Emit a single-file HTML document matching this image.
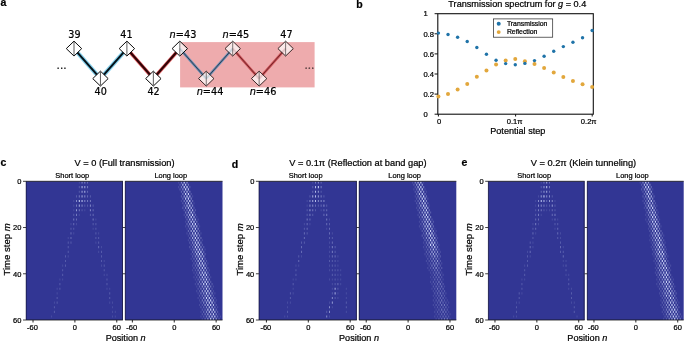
<!DOCTYPE html>
<html><head><meta charset="utf-8"><title>Figure</title><style>html,body{margin:0;padding:0;background:#fff}svg text{stroke:#000;stroke-width:0.22px}</style></head><body>
<svg width="685" height="343" viewBox="0 0 685 343" style="display:block">
<rect width="685" height="343" fill="#fff"/>
<text x="0.5" y="5.9" font-family="Liberation Sans, Arial, Helvetica, sans-serif" font-size="10.5" font-weight="bold" fill="#000">a</text>
<text x="356.3" y="7.9" font-family="Liberation Sans, Arial, Helvetica, sans-serif" font-size="10.5" font-weight="bold" fill="#000">b</text>
<text x="0.5" y="166.0" font-family="Liberation Sans, Arial, Helvetica, sans-serif" font-size="10.5" font-weight="bold" fill="#000">c</text>
<text x="231.8" y="167.6" font-family="Liberation Sans, Arial, Helvetica, sans-serif" font-size="10.5" font-weight="bold" fill="#000">d</text>
<text x="461.6" y="165.6" font-family="Liberation Sans, Arial, Helvetica, sans-serif" font-size="10.5" font-weight="bold" fill="#000">e</text>
<rect x="180.1" y="42.1" width="134.5" height="45.3" fill="#eeabad"/>
<line x1="74.00" y1="48.60" x2="100.45" y2="78.60" stroke="#86d2ee" stroke-width="4.4"/>
<line x1="74.00" y1="48.60" x2="100.45" y2="78.60" stroke="#04121a" stroke-width="2.1"/>
<line x1="100.45" y1="78.60" x2="126.90" y2="48.60" stroke="#86d2ee" stroke-width="4.4"/>
<line x1="100.45" y1="78.60" x2="126.90" y2="48.60" stroke="#04121a" stroke-width="2.1"/>
<line x1="126.90" y1="48.60" x2="153.35" y2="78.60" stroke="#e9676a" stroke-width="3.7"/>
<line x1="126.90" y1="48.60" x2="153.35" y2="78.60" stroke="#300306" stroke-width="2.2"/>
<line x1="153.35" y1="78.60" x2="179.80" y2="48.60" stroke="#e9676a" stroke-width="3.7"/>
<line x1="153.35" y1="78.60" x2="179.80" y2="48.60" stroke="#300306" stroke-width="2.2"/>
<path d="M66.30 48.60L74.00 41.15L81.70 48.60L74.00 56.05Z" fill="#fff" stroke="#0a0a0a" stroke-width="1"/>
<line x1="74.00" y1="41.65" x2="74.00" y2="55.55" stroke="#333" stroke-width="0.8"/>
<path d="M92.75 78.60L100.45 71.15L108.15 78.60L100.45 86.05Z" fill="#fff" stroke="#0a0a0a" stroke-width="1"/>
<line x1="100.45" y1="71.65" x2="100.45" y2="85.55" stroke="#333" stroke-width="0.8"/>
<path d="M119.20 48.60L126.90 41.15L134.60 48.60L126.90 56.05Z" fill="#fff" stroke="#0a0a0a" stroke-width="1"/>
<line x1="126.90" y1="41.65" x2="126.90" y2="55.55" stroke="#333" stroke-width="0.8"/>
<path d="M145.65 78.60L153.35 71.15L161.05 78.60L153.35 86.05Z" fill="#fff" stroke="#0a0a0a" stroke-width="1"/>
<line x1="153.35" y1="71.65" x2="153.35" y2="85.55" stroke="#333" stroke-width="0.8"/>
<g opacity="0.8">
<line x1="179.80" y1="48.60" x2="206.25" y2="78.60" stroke="#3f83b8" stroke-width="2.5"/>
<line x1="179.80" y1="48.60" x2="206.25" y2="78.60" stroke="#0a2030" stroke-width="1.0"/>
<line x1="206.25" y1="78.60" x2="232.70" y2="48.60" stroke="#3f83b8" stroke-width="2.5"/>
<line x1="206.25" y1="78.60" x2="232.70" y2="48.60" stroke="#0a2030" stroke-width="1.0"/>
<line x1="232.70" y1="48.60" x2="259.15" y2="78.60" stroke="#c0353c" stroke-width="2.5"/>
<line x1="232.70" y1="48.60" x2="259.15" y2="78.60" stroke="#50080c" stroke-width="1.0"/>
<line x1="259.15" y1="78.60" x2="285.60" y2="48.60" stroke="#c0353c" stroke-width="2.5"/>
<line x1="259.15" y1="78.60" x2="285.60" y2="48.60" stroke="#50080c" stroke-width="1.0"/>
</g>
<path d="M172.10 48.60L179.80 41.15L179.80 56.05Z" fill="#fff"/>
<path d="M187.50 48.60L179.80 41.15L179.80 56.05Z" fill="#fff" fill-opacity="0.72"/>
<path d="M172.10 48.60L179.80 41.15L187.50 48.60L179.80 56.05Z" fill="none" stroke="#0a0a0a" stroke-width="1"/>
<line x1="179.80" y1="41.65" x2="179.80" y2="55.55" stroke="#555" stroke-width="0.8"/>
<path d="M198.55 78.60L206.25 71.15L213.95 78.60L206.25 86.05Z" fill="#fff" fill-opacity="0.72" stroke="#1a0a0a" stroke-opacity="0.85" stroke-width="1"/>
<line x1="206.25" y1="71.65" x2="206.25" y2="85.55" stroke="#333" stroke-opacity="0.8" stroke-width="0.8"/>
<path d="M225.00 48.60L232.70 41.15L240.40 48.60L232.70 56.05Z" fill="#fff" fill-opacity="0.72" stroke="#1a0a0a" stroke-opacity="0.85" stroke-width="1"/>
<line x1="232.70" y1="41.65" x2="232.70" y2="55.55" stroke="#333" stroke-opacity="0.8" stroke-width="0.8"/>
<path d="M251.45 78.60L259.15 71.15L266.85 78.60L259.15 86.05Z" fill="#fff" fill-opacity="0.72" stroke="#1a0a0a" stroke-opacity="0.85" stroke-width="1"/>
<line x1="259.15" y1="71.65" x2="259.15" y2="85.55" stroke="#333" stroke-opacity="0.8" stroke-width="0.8"/>
<path d="M277.90 48.60L285.60 41.15L293.30 48.60L285.60 56.05Z" fill="#fff" fill-opacity="0.72" stroke="#1a0a0a" stroke-opacity="0.85" stroke-width="1"/>
<line x1="285.60" y1="41.65" x2="285.60" y2="55.55" stroke="#333" stroke-opacity="0.8" stroke-width="0.8"/>
<text x="56.6" y="68.5" font-family="DejaVu Sans, Liberation Sans, sans-serif" font-size="11" fill="#111" textLength="10.0" lengthAdjust="spacingAndGlyphs">...</text>
<text x="304.4" y="69.2" font-family="DejaVu Sans, Liberation Sans, sans-serif" font-size="11" fill="#111" fill-opacity="0.6" textLength="10.0" lengthAdjust="spacingAndGlyphs">...</text>
<text x="74.40" y="37.8" font-family="DejaVu Sans, Liberation Sans, sans-serif" font-size="9.6" fill="#000" stroke="#000" stroke-width="0.06" text-anchor="middle">39</text>
<text x="126.40" y="37.8" font-family="DejaVu Sans, Liberation Sans, sans-serif" font-size="9.6" fill="#000" stroke="#000" stroke-width="0.06" text-anchor="middle">41</text>
<text x="183.00" y="37.8" font-family="DejaVu Sans, Liberation Sans, sans-serif" font-size="9.6" fill="#000" stroke="#000" stroke-width="0.06" text-anchor="middle" textLength="26.8" lengthAdjust="spacingAndGlyphs"><tspan font-style="italic">n</tspan>=43</text>
<text x="235.90" y="37.8" font-family="DejaVu Sans, Liberation Sans, sans-serif" font-size="9.6" fill="#000" stroke="#000" stroke-width="0.06" text-anchor="middle" textLength="26.8" lengthAdjust="spacingAndGlyphs"><tspan font-style="italic">n</tspan>=45</text>
<text x="286.40" y="37.8" font-family="DejaVu Sans, Liberation Sans, sans-serif" font-size="9.6" fill="#000" stroke="#000" stroke-width="0.06" text-anchor="middle">47</text>
<text x="100.65" y="95.0" font-family="DejaVu Sans, Liberation Sans, sans-serif" font-size="9.6" fill="#000" stroke="#000" stroke-width="0.06" text-anchor="middle">40</text>
<text x="153.55" y="95.0" font-family="DejaVu Sans, Liberation Sans, sans-serif" font-size="9.6" fill="#000" stroke="#000" stroke-width="0.06" text-anchor="middle">42</text>
<text x="210.05" y="95.0" font-family="DejaVu Sans, Liberation Sans, sans-serif" font-size="9.6" fill="#000" stroke="#000" stroke-width="0.06" text-anchor="middle" textLength="26.8" lengthAdjust="spacingAndGlyphs"><tspan font-style="italic">n</tspan>=44</text>
<text x="263.05" y="95.0" font-family="DejaVu Sans, Liberation Sans, sans-serif" font-size="9.6" fill="#000" stroke="#000" stroke-width="0.06" text-anchor="middle" textLength="26.8" lengthAdjust="spacingAndGlyphs"><tspan font-style="italic">n</tspan>=46</text>
<text x="517.3" y="7.0" font-family="Liberation Sans, Arial, Helvetica, sans-serif" font-size="9.13" fill="#000" text-anchor="middle">Transmission spectrum for <tspan font-style="italic">g</tspan> = 0.4</text>
<rect x="437.8" y="13.7" width="155.50" height="100.50" fill="none" stroke="#111" stroke-width="1.1"/>
<line x1="434.6" y1="114.20" x2="437.8" y2="114.20" stroke="#111" stroke-width="1"/>
<text x="423.4" y="116.95" font-family="Liberation Sans, Arial, Helvetica, sans-serif" font-size="7.6" fill="#000">0</text>
<line x1="434.6" y1="94.10" x2="437.8" y2="94.10" stroke="#111" stroke-width="1"/>
<text x="423.4" y="96.85" font-family="Liberation Sans, Arial, Helvetica, sans-serif" font-size="7.6" fill="#000">0.2</text>
<line x1="434.6" y1="74.00" x2="437.8" y2="74.00" stroke="#111" stroke-width="1"/>
<text x="423.4" y="76.75" font-family="Liberation Sans, Arial, Helvetica, sans-serif" font-size="7.6" fill="#000">0.4</text>
<line x1="434.6" y1="53.90" x2="437.8" y2="53.90" stroke="#111" stroke-width="1"/>
<text x="423.4" y="56.65" font-family="Liberation Sans, Arial, Helvetica, sans-serif" font-size="7.6" fill="#000">0.6</text>
<line x1="434.6" y1="33.80" x2="437.8" y2="33.80" stroke="#111" stroke-width="1"/>
<text x="423.4" y="36.55" font-family="Liberation Sans, Arial, Helvetica, sans-serif" font-size="7.6" fill="#000">0.8</text>
<line x1="434.6" y1="13.70" x2="437.8" y2="13.70" stroke="#111" stroke-width="1"/>
<text x="423.4" y="16.45" font-family="Liberation Sans, Arial, Helvetica, sans-serif" font-size="7.6" fill="#000">1</text>
<line x1="438.40" y1="114.2" x2="438.40" y2="116.5" stroke="#111" stroke-width="1"/>
<line x1="515.60" y1="114.2" x2="515.60" y2="116.5" stroke="#111" stroke-width="1"/>
<line x1="592.20" y1="114.2" x2="592.20" y2="116.5" stroke="#111" stroke-width="1"/>
<text x="439" y="124.3" font-family="Liberation Sans, Arial, Helvetica, sans-serif" font-size="7.6" fill="#000" text-anchor="middle">0</text>
<text x="514.6" y="124.3" font-family="Liberation Sans, Arial, Helvetica, sans-serif" font-size="7.6" fill="#000" text-anchor="middle">0.1π</text>
<text x="588.7" y="124.3" font-family="Liberation Sans, Arial, Helvetica, sans-serif" font-size="7.6" fill="#000" text-anchor="middle">0.2π</text>
<text x="517.8" y="134.4" font-family="Liberation Sans, Arial, Helvetica, sans-serif" font-size="9.1" fill="#000" text-anchor="middle">Potential step</text>
<circle cx="438.40" cy="96.5" r="2.0" fill="#e2a73c"/>
<circle cx="448.01" cy="93.9" r="2.0" fill="#e2a73c"/>
<circle cx="457.62" cy="89.6" r="2.0" fill="#e2a73c"/>
<circle cx="467.23" cy="83.9" r="2.0" fill="#e2a73c"/>
<circle cx="476.84" cy="76.8" r="2.0" fill="#e2a73c"/>
<circle cx="486.45" cy="70.5" r="2.0" fill="#e2a73c"/>
<circle cx="496.06" cy="64.5" r="2.0" fill="#e2a73c"/>
<circle cx="505.67" cy="60.5" r="2.0" fill="#e2a73c"/>
<circle cx="515.28" cy="59.1" r="2.0" fill="#e2a73c"/>
<circle cx="524.89" cy="61.2" r="2.0" fill="#e2a73c"/>
<circle cx="534.50" cy="64.1" r="2.0" fill="#e2a73c"/>
<circle cx="544.11" cy="68.1" r="2.0" fill="#e2a73c"/>
<circle cx="553.72" cy="72.6" r="2.0" fill="#e2a73c"/>
<circle cx="563.33" cy="77.0" r="2.0" fill="#e2a73c"/>
<circle cx="572.94" cy="81.0" r="2.0" fill="#e2a73c"/>
<circle cx="582.55" cy="84.2" r="2.0" fill="#e2a73c"/>
<circle cx="592.16" cy="87.0" r="2.0" fill="#e2a73c"/>
<circle cx="438.40" cy="33.1" r="1.7" fill="#1f73a8"/>
<circle cx="448.01" cy="34.5" r="1.7" fill="#1f73a8"/>
<circle cx="457.62" cy="37.2" r="1.7" fill="#1f73a8"/>
<circle cx="467.23" cy="41.5" r="1.7" fill="#1f73a8"/>
<circle cx="476.84" cy="47.5" r="1.7" fill="#1f73a8"/>
<circle cx="486.45" cy="54.3" r="1.7" fill="#1f73a8"/>
<circle cx="496.06" cy="60.3" r="1.7" fill="#1f73a8"/>
<circle cx="505.67" cy="63.6" r="1.7" fill="#1f73a8"/>
<circle cx="515.28" cy="64.7" r="1.7" fill="#1f73a8"/>
<circle cx="524.89" cy="63.4" r="1.7" fill="#1f73a8"/>
<circle cx="534.50" cy="60.6" r="1.7" fill="#1f73a8"/>
<circle cx="544.11" cy="56.3" r="1.7" fill="#1f73a8"/>
<circle cx="553.72" cy="51.3" r="1.7" fill="#1f73a8"/>
<circle cx="563.33" cy="46.6" r="1.7" fill="#1f73a8"/>
<circle cx="572.94" cy="42.2" r="1.7" fill="#1f73a8"/>
<circle cx="582.55" cy="37.7" r="1.7" fill="#1f73a8"/>
<circle cx="592.16" cy="30.5" r="1.7" fill="#1f73a8"/>
<rect x="493.4" y="18.9" width="59.3" height="18.3" fill="#fff" stroke="#222" stroke-width="0.7"/>
<circle cx="498.7" cy="23.7" r="2.0" fill="#1f73a8"/>
<circle cx="498.7" cy="32.1" r="1.95" fill="#e2a73c"/>
<text x="506.9" y="26.0" font-family="Liberation Sans, Arial, Helvetica, sans-serif" font-size="6.86" fill="#000">Transmission</text>
<text x="506.9" y="34.4" font-family="Liberation Sans, Arial, Helvetica, sans-serif" font-size="6.86" fill="#000">Reflection</text>
<rect x="26.00" y="181.3" width="96.9" height="138.70" fill="#323694"/>
<path d="M78.82 182.46h0.93M73.29 200.95h0.93M73.29 205.57h0.93M73.29 210.20h0.93M84.36 210.20h0.93M78.82 214.82h0.93M95.43 219.44h0.93M70.52 224.07h0.93M76.05 224.07h0.93M92.67 228.69h0.93M73.29 233.31h0.93M98.20 233.31h0.93M67.75 237.94h0.93M95.43 242.56h0.93M100.97 247.18h0.93M98.20 251.81h0.93M67.75 256.43h0.93M103.74 261.05h0.93M62.21 265.68h0.93M100.97 265.68h0.93M103.74 274.92h0.93M106.51 274.92h0.93M59.44 279.55h0.93M62.21 279.55h0.93M56.67 288.79h0.93M106.51 288.79h0.93M109.28 288.79h0.93M56.67 293.42h0.93M53.91 302.66h0.93M109.28 302.66h0.93M112.05 302.66h0.93M112.05 307.29h0.93M112.05 311.91h0.93M114.81 311.91h0.93M51.14 316.53h0.93M112.05 316.53h0.93M114.81 316.53h0.93" stroke="#d6e0ff" stroke-opacity="0.14" stroke-width="2.13" fill="none"/>
<path d="M78.82 187.08h0.93M78.82 191.70h0.93M76.05 196.33h0.93M89.90 196.33h0.93M84.36 205.57h0.93M87.13 205.57h0.93M92.67 205.57h0.93M81.59 210.20h0.93M73.29 214.82h0.93M89.90 214.82h0.93M92.67 224.07h0.93M95.43 224.07h0.93M70.52 228.69h0.93M73.29 228.69h0.93M95.43 228.69h0.93M95.43 233.31h0.93M95.43 237.94h0.93M98.20 237.94h0.93M67.75 242.56h0.93M70.52 242.56h0.93M98.20 242.56h0.93M67.75 247.18h0.93M67.75 251.81h0.93M100.97 251.81h0.93M64.98 256.43h0.93M100.97 256.43h0.93M64.98 261.05h0.93M100.97 261.05h0.93M64.98 265.68h0.93M103.74 265.68h0.93M62.21 270.30h0.93M103.74 270.30h0.93M62.21 274.92h0.93M106.51 279.55h0.93M59.44 284.17h0.93M106.51 284.17h0.93M59.44 288.79h0.93M109.28 293.42h0.93M56.67 298.04h0.93M109.28 298.04h0.93M56.67 302.66h0.93M53.91 307.29h0.93M53.91 311.91h0.93" stroke="#d6e0ff" stroke-opacity="0.24" stroke-width="2.13" fill="none"/>
<path d="M87.13 182.46h0.93M87.13 191.70h0.93M87.13 196.33h0.93M92.67 210.20h0.93M92.67 214.82h0.93M76.05 219.44h0.93M73.29 224.07h0.93M70.52 233.31h0.93M70.52 237.94h0.93M98.20 247.18h0.93" stroke="#d6e0ff" stroke-opacity="0.34" stroke-width="2.13" fill="none"/>
<path d="M87.13 187.08h0.93M78.82 196.33h0.93M87.13 200.95h0.93M89.90 200.95h0.93M76.05 205.57h0.93M78.82 210.20h0.93M76.05 214.82h0.93M73.29 219.44h0.93M92.67 219.44h0.93" stroke="#d6e0ff" stroke-opacity="0.44" stroke-width="2.13" fill="none"/>
<path d="M81.59 182.46h0.93M84.36 182.46h0.93M84.36 196.33h0.93M76.05 200.95h0.93M84.36 200.95h0.93M81.59 205.57h0.93M89.90 205.57h0.93M89.90 210.20h0.93" stroke="#d6e0ff" stroke-opacity="0.54" stroke-width="2.13" fill="none"/>
<path d="M76.05 210.20h0.93" stroke="#d6e0ff" stroke-opacity="0.64" stroke-width="2.13" fill="none"/>
<path d="M84.36 187.08h0.93M81.59 191.70h0.93M81.59 196.33h0.93M78.82 205.57h0.93" stroke="#d6e0ff" stroke-opacity="0.74" stroke-width="2.13" fill="none"/>
<path d="M81.59 187.08h0.93M84.36 191.70h0.93" stroke="#d6e0ff" stroke-opacity="0.84" stroke-width="2.13" fill="none"/>
<path d="M81.59 200.95h0.93" stroke="#d6e0ff" stroke-opacity="0.94" stroke-width="2.13" fill="none"/>
<path d="M78.82 200.95h0.93" stroke="#d6e0ff" stroke-opacity="1.00" stroke-width="2.13" fill="none"/>
<rect x="125.10" y="181.3" width="97.4" height="138.70" fill="#323694"/>
<path d="M178.07 182.46h1.19M178.07 187.08h1.19M191.99 196.33h1.19M180.86 200.95h1.19M193.38 203.26h1.19M183.64 214.82h1.19M196.16 217.13h1.19M197.55 219.44h1.19M185.03 221.75h1.19M185.03 226.38h1.19M198.95 226.38h1.19M186.42 228.69h1.19M186.42 233.31h1.19M200.34 233.31h1.19M187.81 235.62h1.19M187.81 240.25h1.19M201.73 240.25h1.19M204.51 249.49h1.19M190.60 254.12h1.19M190.60 258.74h1.19M191.99 261.05h1.19M207.29 263.36h1.19M191.99 265.68h1.19M191.99 270.30h1.19M208.69 270.30h1.19M193.38 272.61h1.19M194.77 274.92h1.19M193.38 277.23h1.19M210.08 277.23h1.19M194.77 279.55h1.19M196.16 281.86h1.19M194.77 284.17h1.19M196.16 286.48h1.19M212.86 286.48h1.19M196.16 291.10h1.19M212.86 291.10h1.19M197.55 293.42h1.19M214.25 293.42h1.19M197.55 298.04h1.19M198.95 300.35h1.19M215.64 300.35h1.19M198.95 304.97h1.19M217.03 307.29h1.19M200.34 311.91h1.19M218.43 314.22h1.19M200.34 316.53h1.19M219.82 316.53h1.19M201.73 318.84h1.19" stroke="#d6e0ff" stroke-opacity="0.13" stroke-width="2.13" fill="none"/>
<path d="M179.47 184.77h1.19M189.21 187.08h1.19M179.47 189.39h1.19M190.60 194.01h1.19M180.86 196.33h1.19M182.25 203.26h1.19M182.25 207.88h1.19M193.38 207.88h1.19M183.64 210.20h1.19M194.77 210.20h1.19M185.03 217.13h1.19M197.55 224.07h1.19M198.95 231.00h1.19M189.21 242.56h1.19M190.60 244.87h1.19M201.73 244.87h1.19M189.21 247.18h1.19M203.12 247.18h1.19M190.60 249.49h1.19M204.51 254.12h1.19M191.99 256.43h1.19M205.90 261.05h1.19M193.38 263.36h1.19M193.38 267.99h1.19M207.29 267.99h1.19M194.77 270.30h1.19M196.16 272.61h1.19M208.69 274.92h1.19M196.16 277.23h1.19M210.08 281.86h1.19M211.47 284.17h1.19M197.55 288.79h1.19M211.47 288.79h1.19M198.95 291.10h1.19M198.95 295.73h1.19M212.86 295.73h1.19M200.34 298.04h1.19M214.25 298.04h1.19M200.34 302.66h1.19M201.73 304.97h1.19M215.64 304.97h1.19M200.34 307.29h1.19M201.73 309.60h1.19M217.03 311.91h1.19M201.73 314.22h1.19M203.12 316.53h1.19M218.43 318.84h1.19" stroke="#d6e0ff" stroke-opacity="0.22" stroke-width="2.13" fill="none"/>
<path d="M180.86 191.70h1.19M182.25 198.64h1.19M191.99 200.95h1.19M183.64 205.57h1.19M194.77 214.82h1.19M186.42 219.44h1.19M186.42 224.07h1.19M187.81 226.38h1.19M187.81 231.00h1.19M189.21 233.31h1.19M189.21 237.94h1.19M200.34 237.94h1.19M191.99 247.18h1.19M191.99 251.81h1.19M203.12 251.81h1.19M193.38 254.12h1.19M193.38 258.74h1.19M204.51 258.74h1.19M194.77 261.05h1.19M194.77 265.68h1.19M205.90 265.68h1.19M196.16 267.99h1.19M197.55 274.92h1.19M197.55 279.55h1.19M197.55 284.17h1.19M198.95 286.48h1.19M214.25 302.66h1.19M203.12 307.29h1.19M204.51 309.60h1.19M215.64 309.60h1.19M203.12 311.91h1.19M217.03 316.53h1.19M204.51 318.84h1.19" stroke="#d6e0ff" stroke-opacity="0.30" stroke-width="2.13" fill="none"/>
<path d="M187.81 184.77h1.19M180.86 187.08h1.19M189.21 191.70h1.19M182.25 194.01h1.19M183.64 200.95h1.19M186.42 210.20h1.19M185.03 212.51h1.19M196.16 221.75h1.19M189.21 228.69h1.19M198.95 235.62h1.19M190.60 240.25h1.19M200.34 242.56h1.19M196.16 263.36h1.19M207.29 272.61h1.19M198.95 277.23h1.19M198.95 281.86h1.19M210.08 286.48h1.19M200.34 288.79h1.19M200.34 293.42h1.19M201.73 295.73h1.19M201.73 300.35h1.19M214.25 307.29h1.19M204.51 314.22h1.19M205.90 316.53h1.19" stroke="#d6e0ff" stroke-opacity="0.39" stroke-width="2.13" fill="none"/>
<path d="M180.86 182.46h1.19M182.25 189.39h1.19M190.60 198.64h1.19M185.03 203.26h1.19M191.99 205.57h1.19M185.03 207.88h1.19M193.38 212.51h1.19M186.42 214.82h1.19M187.81 217.13h1.19M187.81 221.75h1.19M197.55 228.69h1.19M190.60 235.62h1.19M198.95 240.25h1.19M191.99 242.56h1.19M200.34 247.18h1.19M194.77 256.43h1.19M197.55 270.30h1.19M205.90 270.30h1.19M208.69 279.55h1.19M200.34 284.17h1.19M208.69 284.17h1.19M211.47 293.42h1.19M212.86 300.35h1.19M203.12 302.66h1.19M205.90 307.29h1.19M205.90 311.91h1.19M215.64 314.22h1.19" stroke="#d6e0ff" stroke-opacity="0.48" stroke-width="2.13" fill="none"/>
<path d="M186.42 182.46h1.19M183.64 196.33h1.19M189.21 224.07h1.19M197.55 233.31h1.19M193.38 244.87h1.19M193.38 249.49h1.19M201.73 249.49h1.19M194.77 251.81h1.19M203.12 256.43h1.19M196.16 258.74h1.19M203.12 261.05h1.19M204.51 263.36h1.19M198.95 272.61h1.19M207.29 277.23h1.19M201.73 281.86h1.19M201.73 286.48h1.19M203.12 288.79h1.19M201.73 291.10h1.19M210.08 291.10h1.19M203.12 293.42h1.19M203.12 298.04h1.19M211.47 298.04h1.19M204.51 300.35h1.19M204.51 304.97h1.19M207.29 318.84h1.19M215.64 318.84h1.19" stroke="#d6e0ff" stroke-opacity="0.57" stroke-width="2.13" fill="none"/>
<path d="M183.64 191.70h1.19M190.60 203.26h1.19M187.81 212.51h1.19M193.38 217.13h1.19M194.77 219.44h1.19M196.16 226.38h1.19M190.60 231.00h1.19M196.16 231.00h1.19M191.99 237.94h1.19M198.95 244.87h1.19M197.55 265.68h1.19M198.95 267.99h1.19M200.34 279.55h1.19M208.69 288.79h1.19M204.51 295.73h1.19M210.08 295.73h1.19M205.90 302.66h1.19M207.29 314.22h1.19M208.69 316.53h1.19" stroke="#d6e0ff" stroke-opacity="0.66" stroke-width="2.13" fill="none"/>
<path d="M187.81 189.39h1.19M189.21 196.33h1.19M186.42 200.95h1.19M186.42 205.57h1.19M187.81 207.88h1.19M190.60 207.88h1.19M191.99 210.20h1.19M190.60 226.38h1.19M191.99 228.69h1.19M191.99 233.31h1.19M197.55 237.94h1.19M193.38 240.25h1.19M201.73 254.12h1.19M197.55 256.43h1.19M197.55 261.05h1.19M200.34 270.30h1.19M203.12 270.30h1.19M200.34 274.92h1.19M207.29 281.86h1.19M204.51 286.48h1.19M204.51 291.10h1.19M208.69 293.42h1.19M212.86 304.97h1.19M211.47 307.29h1.19M208.69 311.91h1.19M211.47 311.91h1.19M214.25 311.91h1.19M210.08 314.22h1.19M212.86 318.84h1.19" stroke="#d6e0ff" stroke-opacity="0.74" stroke-width="2.13" fill="none"/>
<path d="M182.25 184.77h1.19M185.03 184.77h1.19M186.42 191.70h1.19M185.03 198.64h1.19M189.21 214.82h1.19M189.21 219.44h1.19M191.99 219.44h1.19M191.99 224.07h1.19M193.38 235.62h1.19M196.16 235.62h1.19M194.77 242.56h1.19M194.77 247.18h1.19M197.55 247.18h1.19M196.16 254.12h1.19M200.34 256.43h1.19M200.34 265.68h1.19M201.73 267.99h1.19M204.51 267.99h1.19M201.73 272.61h1.19M205.90 274.92h1.19M201.73 277.23h1.19M204.51 277.23h1.19M203.12 279.55h1.19M208.69 307.29h1.19M207.29 309.60h1.19" stroke="#d6e0ff" stroke-opacity="0.83" stroke-width="2.13" fill="none"/>
<path d="M183.64 182.46h1.19M183.64 187.08h1.19M186.42 187.08h1.19M185.03 189.39h1.19M185.03 194.01h1.19M187.81 194.01h1.19M186.42 196.33h1.19M187.81 198.64h1.19M189.21 200.95h1.19M187.81 203.26h1.19M189.21 205.57h1.19M189.21 210.20h1.19M190.60 212.51h1.19M191.99 214.82h1.19M190.60 217.13h1.19M190.60 221.75h1.19M193.38 221.75h1.19M194.77 224.07h1.19M193.38 226.38h1.19M194.77 228.69h1.19M193.38 231.00h1.19M194.77 233.31h1.19M194.77 237.94h1.19M196.16 240.25h1.19M197.55 242.56h1.19M196.16 244.87h1.19M196.16 249.49h1.19M198.95 249.49h1.19M197.55 251.81h1.19M200.34 251.81h1.19M198.95 254.12h1.19M198.95 258.74h1.19M201.73 258.74h1.19M200.34 261.05h1.19M198.95 263.36h1.19M201.73 263.36h1.19M203.12 265.68h1.19M204.51 272.61h1.19M203.12 274.92h1.19M205.90 279.55h1.19M204.51 281.86h1.19M203.12 284.17h1.19M205.90 284.17h1.19M207.29 286.48h1.19M205.90 288.79h1.19M207.29 291.10h1.19M205.90 293.42h1.19M207.29 295.73h1.19M205.90 298.04h1.19M208.69 298.04h1.19M207.29 300.35h1.19M210.08 300.35h1.19M208.69 302.66h1.19M211.47 302.66h1.19M207.29 304.97h1.19M210.08 304.97h1.19M210.08 309.60h1.19M212.86 309.60h1.19M212.86 314.22h1.19M211.47 316.53h1.19M214.25 316.53h1.19M210.08 318.84h1.19" stroke="#d6e0ff" stroke-opacity="0.92" stroke-width="2.13" fill="none"/>
<path d="M23.0 181.3H122.9M125.1 181.3H222.5M23.0 320.0H122.9M125.1 320.0H222.5" stroke="#111" stroke-width="0.8" fill="none"/>
<path d="M26.2 181.3V320.0M125.3 181.3V320.0M122.5 181.3V320.0" stroke="#121236" stroke-width="0.7" fill="none"/>
<path d="M23.0 227.53H26.0M122.9 227.53H125.1" stroke="#111" stroke-width="0.8"/>
<path d="M23.0 273.77H26.0M122.9 273.77H125.1" stroke="#111" stroke-width="0.8"/>
<text x="21.40" y="184.25" font-family="Liberation Sans, Arial, Helvetica, sans-serif" font-size="7.5" fill="#000" text-anchor="end">0</text>
<text x="21.40" y="230.48" font-family="Liberation Sans, Arial, Helvetica, sans-serif" font-size="7.5" fill="#000" text-anchor="end">20</text>
<text x="21.40" y="276.72" font-family="Liberation Sans, Arial, Helvetica, sans-serif" font-size="7.5" fill="#000" text-anchor="end">40</text>
<text x="21.40" y="322.95" font-family="Liberation Sans, Arial, Helvetica, sans-serif" font-size="7.5" fill="#000" text-anchor="end">60</text>
<line x1="33.02" y1="320.0" x2="33.02" y2="322.5" stroke="#111" stroke-width="0.9"/>
<text x="32.42" y="329.50" font-family="Liberation Sans, Arial, Helvetica, sans-serif" font-size="7.5" fill="#000" text-anchor="middle">-60</text>
<line x1="74.90" y1="320.0" x2="74.90" y2="322.5" stroke="#111" stroke-width="0.9"/>
<text x="74.90" y="329.50" font-family="Liberation Sans, Arial, Helvetica, sans-serif" font-size="7.5" fill="#000" text-anchor="middle">0</text>
<line x1="116.78" y1="320.0" x2="116.78" y2="322.5" stroke="#111" stroke-width="0.9"/>
<text x="116.78" y="329.50" font-family="Liberation Sans, Arial, Helvetica, sans-serif" font-size="7.5" fill="#000" text-anchor="middle">60</text>
<line x1="132.37" y1="320.0" x2="132.37" y2="322.5" stroke="#111" stroke-width="0.9"/>
<text x="131.77" y="329.50" font-family="Liberation Sans, Arial, Helvetica, sans-serif" font-size="7.5" fill="#000" text-anchor="middle">-60</text>
<line x1="174.25" y1="320.0" x2="174.25" y2="322.5" stroke="#111" stroke-width="0.9"/>
<text x="174.25" y="329.50" font-family="Liberation Sans, Arial, Helvetica, sans-serif" font-size="7.5" fill="#000" text-anchor="middle">0</text>
<line x1="216.13" y1="320.0" x2="216.13" y2="322.5" stroke="#111" stroke-width="0.9"/>
<text x="216.13" y="329.50" font-family="Liberation Sans, Arial, Helvetica, sans-serif" font-size="7.5" fill="#000" text-anchor="middle">60</text>
<text x="124.55" y="166.4" font-family="Liberation Sans, Arial, Helvetica, sans-serif" font-size="9.25" fill="#000" text-anchor="middle">V = 0 (Full transmission)</text>
<text x="72.25" y="178.4" font-family="Liberation Sans, Arial, Helvetica, sans-serif" font-size="7.45" fill="#000" text-anchor="middle">Short loop</text>
<text x="170.80" y="178.4" font-family="Liberation Sans, Arial, Helvetica, sans-serif" font-size="7.45" fill="#000" text-anchor="middle">Long loop</text>
<text x="125.65" y="340.9" font-family="Liberation Sans, Arial, Helvetica, sans-serif" font-size="9.1" fill="#000" text-anchor="middle">Position <tspan font-style="italic">n</tspan></text>
<text transform="translate(10.20 249.4) rotate(-90)" font-family="Liberation Sans, Arial, Helvetica, sans-serif" font-size="9.55" fill="#000" text-anchor="middle">Time step <tspan font-style="italic">m</tspan></text>
<rect x="258.90" y="181.3" width="97.90000000000003" height="138.70" fill="#323694"/>
<path d="M312.27 182.46h0.95M306.67 200.95h0.95M306.67 205.57h0.95M320.66 210.20h0.95M329.05 219.44h0.95M303.87 224.07h0.95M309.47 224.07h0.95M326.25 228.69h0.95M331.85 233.31h0.95M329.05 242.56h0.95M329.05 247.18h0.95M329.05 251.81h0.95M301.08 256.43h0.95M329.05 256.43h0.95M337.44 256.43h0.95M337.44 261.05h0.95M295.48 265.68h0.95M298.28 265.68h0.95M329.05 265.68h0.95M337.44 265.68h0.95M329.05 270.30h0.95M340.24 270.30h0.95M337.44 274.92h0.95M340.24 274.92h0.95M292.69 279.55h0.95M295.48 279.55h0.95M329.05 279.55h0.95M331.85 279.55h0.95M337.44 279.55h0.95M340.24 279.55h0.95M331.85 284.17h0.95M340.24 284.17h0.95M292.69 288.79h0.95M331.85 288.79h0.95M345.83 288.79h0.95M292.69 293.42h0.95M337.44 293.42h0.95M345.83 293.42h0.95M337.44 298.04h0.95M345.83 298.04h0.95M287.09 302.66h0.95M289.89 302.66h0.95M329.05 302.66h0.95M287.09 307.29h0.95M331.85 307.29h0.95M345.83 311.91h0.95M284.29 316.53h0.95M287.09 316.53h0.95M329.05 316.53h0.95" stroke="#d6e0ff" stroke-opacity="0.14" stroke-width="2.13" fill="none"/>
<path d="M312.27 187.08h0.95M320.66 191.70h0.95M309.47 196.33h0.95M323.45 196.33h0.95M317.86 205.57h0.95M326.25 205.57h0.95M306.67 210.20h0.95M315.06 210.20h0.95M306.67 214.82h0.95M312.27 214.82h0.95M329.05 224.07h0.95M303.87 228.69h0.95M306.67 233.31h0.95M329.05 237.94h0.95M331.85 237.94h0.95M301.08 242.56h0.95M303.87 242.56h0.95M334.64 247.18h0.95M334.64 251.81h0.95M298.28 256.43h0.95M329.05 261.05h0.95M331.85 261.05h0.95M334.64 261.05h0.95M331.85 265.68h0.95M334.64 265.68h0.95M295.48 270.30h0.95M331.85 270.30h0.95M334.64 270.30h0.95M337.44 270.30h0.95M295.48 274.92h0.95M331.85 274.92h0.95M334.64 274.92h0.95M334.64 279.55h0.95M292.69 284.17h0.95M334.64 284.17h0.95M337.44 288.79h0.95M289.89 293.42h0.95M331.85 293.42h0.95M289.89 298.04h0.95M334.64 298.04h0.95M345.83 302.66h0.95M345.83 307.29h0.95M287.09 311.91h0.95M326.25 311.91h0.95" stroke="#d6e0ff" stroke-opacity="0.24" stroke-width="2.13" fill="none"/>
<path d="M320.66 182.46h0.95M312.27 191.70h0.95M315.06 205.57h0.95M320.66 205.57h0.95M323.45 210.20h0.95M326.25 210.20h0.95M323.45 214.82h0.95M309.47 219.44h0.95M306.67 224.07h0.95M326.25 224.07h0.95M306.67 228.69h0.95M329.05 228.69h0.95M303.87 233.31h0.95M329.05 233.31h0.95M303.87 237.94h0.95M331.85 242.56h0.95M301.08 247.18h0.95M301.08 251.81h0.95M331.85 256.43h0.95M334.64 256.43h0.95M298.28 261.05h0.95M337.44 284.17h0.95" stroke="#d6e0ff" stroke-opacity="0.34" stroke-width="2.13" fill="none"/>
<path d="M315.06 182.46h0.95M320.66 187.08h0.95M320.66 196.33h0.95M312.27 210.20h0.95M309.47 214.82h0.95M326.25 214.82h0.95M306.67 219.44h0.95M326.25 219.44h0.95M331.85 247.18h0.95M331.85 251.81h0.95" stroke="#d6e0ff" stroke-opacity="0.44" stroke-width="2.13" fill="none"/>
<path d="M317.86 182.46h0.95M309.47 200.95h0.95M317.86 200.95h0.95M320.66 200.95h0.95M323.45 200.95h0.95M309.47 205.57h0.95M312.27 205.57h0.95M323.45 205.57h0.95M331.85 298.04h0.95M329.05 307.29h0.95M329.05 311.91h0.95M326.25 316.53h0.95" stroke="#d6e0ff" stroke-opacity="0.54" stroke-width="2.13" fill="none"/>
<path d="M317.86 191.70h0.95M317.86 196.33h0.95M309.47 210.20h0.95M331.85 302.66h0.95" stroke="#d6e0ff" stroke-opacity="0.64" stroke-width="2.13" fill="none"/>
<path d="M312.27 196.33h0.95M312.27 200.95h0.95M334.64 288.79h0.95M334.64 293.42h0.95" stroke="#d6e0ff" stroke-opacity="0.74" stroke-width="2.13" fill="none"/>
<path d="M315.06 187.08h0.95M315.06 191.70h0.95M315.06 196.33h0.95M315.06 200.95h0.95" stroke="#d6e0ff" stroke-opacity="0.84" stroke-width="2.13" fill="none"/>
<path d="M317.86 187.08h0.95" stroke="#d6e0ff" stroke-opacity="1.00" stroke-width="2.13" fill="none"/>
<rect x="359.00" y="181.3" width="97.30000000000001" height="138.70" fill="#323694"/>
<path d="M411.92 182.46h1.19M423.04 182.46h1.19M413.31 189.39h1.19M424.43 189.39h1.19M425.82 191.70h1.19M414.70 196.33h1.19M427.21 198.64h1.19M414.70 200.95h1.19M428.60 205.57h1.19M416.09 207.88h1.19M417.48 214.82h1.19M418.87 221.75h1.19M418.87 226.38h1.19M420.26 228.69h1.19M434.16 228.69h1.19M435.55 231.00h1.19M436.94 237.94h1.19M423.04 242.56h1.19M424.43 244.87h1.19M438.33 244.87h1.19M423.04 247.18h1.19M424.43 249.49h1.19M439.72 251.81h1.19M424.43 254.12h1.19M425.82 256.43h1.19M425.82 261.05h1.19M427.21 263.36h1.19M441.11 263.36h1.19M428.60 265.68h1.19M427.21 267.99h1.19M428.60 270.30h1.19M429.99 272.61h1.19M441.11 272.61h1.19M431.38 274.92h1.19M442.50 274.92h1.19M429.99 277.23h1.19M431.38 279.55h1.19M442.50 279.55h1.19M429.99 281.86h1.19M431.38 284.17h1.19M443.89 286.48h1.19M431.38 288.79h1.19M432.77 291.10h1.19M445.28 293.42h1.19M432.77 295.73h1.19M434.16 298.04h1.19M445.28 298.04h1.19M432.77 300.35h1.19M446.67 300.35h1.19M434.16 302.66h1.19M448.06 302.66h1.19M432.77 304.97h1.19M434.16 307.29h1.19M448.06 307.29h1.19M435.55 309.60h1.19M434.16 311.91h1.19M448.06 311.91h1.19M435.55 314.22h1.19M449.45 314.22h1.19M434.16 316.53h1.19M436.94 316.53h1.19M435.55 318.84h1.19M449.45 318.84h1.19" stroke="#d6e0ff" stroke-opacity="0.13" stroke-width="2.13" fill="none"/>
<path d="M413.31 184.77h1.19M414.70 187.08h1.19M414.70 191.70h1.19M416.09 198.64h1.19M416.09 203.26h1.19M417.48 205.57h1.19M417.48 210.20h1.19M429.99 212.51h1.19M418.87 217.13h1.19M420.26 219.44h1.19M431.38 219.44h1.19M432.77 221.75h1.19M420.26 224.07h1.19M421.65 226.38h1.19M421.65 231.00h1.19M423.04 233.31h1.19M421.65 235.62h1.19M435.55 235.62h1.19M423.04 237.94h1.19M436.94 242.56h1.19M425.82 247.18h1.19M438.33 249.49h1.19M425.82 251.81h1.19M427.21 254.12h1.19M428.60 256.43h1.19M439.72 256.43h1.19M427.21 258.74h1.19M428.60 261.05h1.19M439.72 261.05h1.19M429.99 263.36h1.19M439.72 265.68h1.19M429.99 267.99h1.19M441.11 267.99h1.19M431.38 270.30h1.19M439.72 270.30h1.19M432.77 272.61h1.19M432.77 277.23h1.19M441.11 277.23h1.19M432.77 281.86h1.19M435.55 281.86h1.19M441.11 281.86h1.19M434.16 284.17h1.19M442.50 284.17h1.19M432.77 286.48h1.19M434.16 288.79h1.19M435.55 291.10h1.19M441.11 291.10h1.19M443.89 291.10h1.19M434.16 293.42h1.19M435.55 295.73h1.19M443.89 295.73h1.19M436.94 298.04h1.19M435.55 300.35h1.19M443.89 300.35h1.19M436.94 302.66h1.19M445.28 302.66h1.19M435.55 304.97h1.19M438.33 304.97h1.19M446.67 304.97h1.19M436.94 307.29h1.19M439.72 307.29h1.19M438.33 309.60h1.19M446.67 309.60h1.19M436.94 311.91h1.19M439.72 311.91h1.19M438.33 314.22h1.19M446.67 314.22h1.19M439.72 316.53h1.19M448.06 316.53h1.19M438.33 318.84h1.19" stroke="#d6e0ff" stroke-opacity="0.22" stroke-width="2.13" fill="none"/>
<path d="M416.09 189.39h1.19M416.09 194.01h1.19M425.82 196.33h1.19M417.48 200.95h1.19M427.21 203.26h1.19M418.87 207.88h1.19M418.87 212.51h1.19M420.26 214.82h1.19M432.77 226.38h1.19M434.16 233.31h1.19M424.43 235.62h1.19M424.43 240.25h1.19M425.82 242.56h1.19M427.21 249.49h1.19M428.60 251.81h1.19M438.33 254.12h1.19M429.99 258.74h1.19M438.33 258.74h1.19M438.33 267.99h1.19M434.16 274.92h1.19M436.94 274.92h1.19M439.72 274.92h1.19M435.55 277.23h1.19M434.16 279.55h1.19M436.94 279.55h1.19M439.72 279.55h1.19M436.94 284.17h1.19M435.55 286.48h1.19M438.33 286.48h1.19M439.72 288.79h1.19M442.50 288.79h1.19M438.33 291.10h1.19M436.94 293.42h1.19M442.50 293.42h1.19M438.33 295.73h1.19M439.72 298.04h1.19M442.50 298.04h1.19M438.33 300.35h1.19M442.50 302.66h1.19M442.50 307.29h1.19M445.28 307.29h1.19M443.89 309.60h1.19M445.28 311.91h1.19M441.11 314.22h1.19M443.89 314.22h1.19M442.50 316.53h1.19M445.28 316.53h1.19M441.11 318.84h1.19" stroke="#d6e0ff" stroke-opacity="0.30" stroke-width="2.13" fill="none"/>
<path d="M423.04 187.08h1.19M424.43 194.01h1.19M417.48 196.33h1.19M420.26 210.20h1.19M428.60 210.20h1.19M429.99 217.13h1.19M421.65 221.75h1.19M423.04 228.69h1.19M424.43 231.00h1.19M435.55 240.25h1.19M427.21 244.87h1.19M435.55 244.87h1.19M428.60 247.18h1.19M436.94 247.18h1.19M431.38 261.05h1.19M432.77 263.36h1.19M438.33 263.36h1.19M431.38 265.68h1.19M436.94 265.68h1.19M432.77 267.99h1.19M434.16 270.30h1.19M436.94 270.30h1.19M435.55 272.61h1.19M438.33 272.61h1.19M438.33 277.23h1.19M438.33 281.86h1.19M439.72 284.17h1.19M441.11 286.48h1.19M436.94 288.79h1.19M439.72 293.42h1.19M441.11 295.73h1.19M441.11 300.35h1.19M439.72 302.66h1.19M441.11 304.97h1.19M443.89 304.97h1.19M441.11 309.60h1.19M442.50 311.91h1.19M443.89 318.84h1.19M446.67 318.84h1.19" stroke="#d6e0ff" stroke-opacity="0.39" stroke-width="2.13" fill="none"/>
<path d="M414.70 182.46h1.19M418.87 198.64h1.19M425.82 200.95h1.19M418.87 203.26h1.19M428.60 214.82h1.19M421.65 217.13h1.19M423.04 219.44h1.19M423.04 224.07h1.19M431.38 224.07h1.19M432.77 231.00h1.19M425.82 237.94h1.19M427.21 240.25h1.19M436.94 251.81h1.19M429.99 254.12h1.19M431.38 256.43h1.19M436.94 256.43h1.19M432.77 258.74h1.19M435.55 258.74h1.19M434.16 261.05h1.19M434.16 265.68h1.19" stroke="#d6e0ff" stroke-opacity="0.48" stroke-width="2.13" fill="none"/>
<path d="M416.09 184.77h1.19M417.48 191.70h1.19M423.04 191.70h1.19M421.65 207.88h1.19M429.99 221.75h1.19M427.21 235.62h1.19M428.60 242.56h1.19M429.99 249.49h1.19M434.16 251.81h1.19M435.55 254.12h1.19M436.94 261.05h1.19M435.55 263.36h1.19M435.55 267.99h1.19" stroke="#d6e0ff" stroke-opacity="0.57" stroke-width="2.13" fill="none"/>
<path d="M421.65 184.77h1.19M420.26 200.95h1.19M420.26 205.57h1.19M427.21 207.88h1.19M421.65 212.51h1.19M423.04 214.82h1.19M425.82 224.07h1.19M431.38 228.69h1.19M425.82 233.31h1.19M432.77 235.62h1.19M434.16 237.94h1.19M431.38 247.18h1.19M435.55 249.49h1.19M431.38 251.81h1.19M432.77 254.12h1.19M434.16 256.43h1.19" stroke="#d6e0ff" stroke-opacity="0.66" stroke-width="2.13" fill="none"/>
<path d="M417.48 187.08h1.19M425.82 205.57h1.19M423.04 210.20h1.19M424.43 226.38h1.19M429.99 226.38h1.19M425.82 228.69h1.19M427.21 231.00h1.19M428.60 237.94h1.19M432.77 240.25h1.19M434.16 242.56h1.19" stroke="#d6e0ff" stroke-opacity="0.74" stroke-width="2.13" fill="none"/>
<path d="M417.48 182.46h1.19M418.87 184.77h1.19M418.87 189.39h1.19M418.87 194.01h1.19M420.26 196.33h1.19M424.43 198.64h1.19M421.65 203.26h1.19M424.43 217.13h1.19M425.82 219.44h1.19M424.43 221.75h1.19M434.16 247.18h1.19M432.77 249.49h1.19" stroke="#d6e0ff" stroke-opacity="0.83" stroke-width="2.13" fill="none"/>
<path d="M420.26 182.46h1.19M420.26 187.08h1.19M421.65 189.39h1.19M420.26 191.70h1.19M421.65 194.01h1.19M423.04 196.33h1.19M421.65 198.64h1.19M423.04 200.95h1.19M424.43 203.26h1.19M423.04 205.57h1.19M424.43 207.88h1.19M425.82 210.20h1.19M424.43 212.51h1.19M427.21 212.51h1.19M425.82 214.82h1.19M427.21 217.13h1.19M428.60 219.44h1.19M427.21 221.75h1.19M428.60 224.07h1.19M427.21 226.38h1.19M428.60 228.69h1.19M429.99 231.00h1.19M428.60 233.31h1.19M431.38 233.31h1.19M429.99 235.62h1.19M431.38 237.94h1.19M429.99 240.25h1.19M431.38 242.56h1.19M429.99 244.87h1.19M432.77 244.87h1.19" stroke="#d6e0ff" stroke-opacity="0.92" stroke-width="2.13" fill="none"/>
<path d="M255.89999999999998 181.3H356.8M359.0 181.3H456.3M255.89999999999998 320.0H356.8M359.0 320.0H456.3" stroke="#111" stroke-width="0.8" fill="none"/>
<path d="M259.09999999999997 181.3V320.0M359.2 181.3V320.0M356.40000000000003 181.3V320.0" stroke="#121236" stroke-width="0.7" fill="none"/>
<path d="M255.89999999999998 227.53H258.9M356.8 227.53H359.0" stroke="#111" stroke-width="0.8"/>
<path d="M255.89999999999998 273.77H258.9M356.8 273.77H359.0" stroke="#111" stroke-width="0.8"/>
<text x="254.30" y="184.25" font-family="Liberation Sans, Arial, Helvetica, sans-serif" font-size="7.5" fill="#000" text-anchor="end">0</text>
<text x="254.30" y="230.48" font-family="Liberation Sans, Arial, Helvetica, sans-serif" font-size="7.5" fill="#000" text-anchor="end">20</text>
<text x="254.30" y="276.72" font-family="Liberation Sans, Arial, Helvetica, sans-serif" font-size="7.5" fill="#000" text-anchor="end">40</text>
<text x="254.30" y="322.95" font-family="Liberation Sans, Arial, Helvetica, sans-serif" font-size="7.5" fill="#000" text-anchor="end">60</text>
<line x1="266.42" y1="320.0" x2="266.42" y2="322.5" stroke="#111" stroke-width="0.9"/>
<text x="265.82" y="329.50" font-family="Liberation Sans, Arial, Helvetica, sans-serif" font-size="7.5" fill="#000" text-anchor="middle">-60</text>
<line x1="308.30" y1="320.0" x2="308.30" y2="322.5" stroke="#111" stroke-width="0.9"/>
<text x="308.30" y="329.50" font-family="Liberation Sans, Arial, Helvetica, sans-serif" font-size="7.5" fill="#000" text-anchor="middle">0</text>
<line x1="350.18" y1="320.0" x2="350.18" y2="322.5" stroke="#111" stroke-width="0.9"/>
<text x="350.18" y="329.50" font-family="Liberation Sans, Arial, Helvetica, sans-serif" font-size="7.5" fill="#000" text-anchor="middle">60</text>
<line x1="366.22" y1="320.0" x2="366.22" y2="322.5" stroke="#111" stroke-width="0.9"/>
<text x="365.62" y="329.50" font-family="Liberation Sans, Arial, Helvetica, sans-serif" font-size="7.5" fill="#000" text-anchor="middle">-60</text>
<line x1="408.10" y1="320.0" x2="408.10" y2="322.5" stroke="#111" stroke-width="0.9"/>
<text x="408.10" y="329.50" font-family="Liberation Sans, Arial, Helvetica, sans-serif" font-size="7.5" fill="#000" text-anchor="middle">0</text>
<line x1="449.98" y1="320.0" x2="449.98" y2="322.5" stroke="#111" stroke-width="0.9"/>
<text x="449.98" y="329.50" font-family="Liberation Sans, Arial, Helvetica, sans-serif" font-size="7.5" fill="#000" text-anchor="middle">60</text>
<text x="357.90" y="166.4" font-family="Liberation Sans, Arial, Helvetica, sans-serif" font-size="9.25" fill="#000" text-anchor="middle">V = 0.1π (Reflection at band gap)</text>
<text x="305.65" y="178.4" font-family="Liberation Sans, Arial, Helvetica, sans-serif" font-size="7.45" fill="#000" text-anchor="middle">Short loop</text>
<text x="404.65" y="178.4" font-family="Liberation Sans, Arial, Helvetica, sans-serif" font-size="7.45" fill="#000" text-anchor="middle">Long loop</text>
<text x="359.00" y="340.9" font-family="Liberation Sans, Arial, Helvetica, sans-serif" font-size="9.1" fill="#000" text-anchor="middle">Position <tspan font-style="italic">n</tspan></text>
<text transform="translate(243.10 249.4) rotate(-90)" font-family="Liberation Sans, Arial, Helvetica, sans-serif" font-size="9.55" fill="#000" text-anchor="middle">Time step <tspan font-style="italic">m</tspan></text>
<rect x="488.20" y="181.3" width="96.40000000000003" height="138.70" fill="#323694"/>
<path d="M540.75 182.46h0.93M538.00 196.33h0.93M535.24 200.95h0.93M554.52 200.95h0.93M535.24 205.57h0.93M546.26 210.20h0.93M549.01 210.20h0.93M540.75 214.82h0.93M551.77 219.44h0.93M557.28 219.44h0.93M532.49 224.07h0.93M538.00 224.07h0.93M554.52 228.69h0.93M535.24 233.31h0.93M560.03 233.31h0.93M560.03 237.94h0.93M532.49 242.56h0.93M532.49 247.18h0.93M562.79 247.18h0.93M526.98 251.81h0.93M529.73 256.43h0.93M562.79 261.05h0.93M565.54 261.05h0.93M524.23 265.68h0.93M562.79 265.68h0.93M565.54 274.92h0.93M568.29 274.92h0.93M521.47 279.55h0.93M524.23 279.55h0.93M568.29 288.79h0.93M571.05 288.79h0.93M521.47 293.42h0.93M515.96 302.66h0.93M518.72 302.66h0.93M571.05 302.66h0.93M573.80 302.66h0.93M513.21 316.53h0.93M515.96 316.53h0.93M576.56 316.53h0.93" stroke="#d6e0ff" stroke-opacity="0.14" stroke-width="2.13" fill="none"/>
<path d="M540.75 187.08h0.93M551.77 196.33h0.93M546.26 205.57h0.93M549.01 205.57h0.93M554.52 205.57h0.93M535.24 210.20h0.93M543.51 210.20h0.93M554.52 210.20h0.93M535.24 214.82h0.93M554.52 224.07h0.93M557.28 224.07h0.93M532.49 228.69h0.93M532.49 237.94h0.93M557.28 237.94h0.93M529.73 242.56h0.93M560.03 242.56h0.93M560.03 251.81h0.93M562.79 251.81h0.93M526.98 256.43h0.93M526.98 261.05h0.93M526.98 265.68h0.93M565.54 265.68h0.93M524.23 270.30h0.93M565.54 270.30h0.93M524.23 274.92h0.93M568.29 279.55h0.93M521.47 284.17h0.93M568.29 284.17h0.93M521.47 288.79h0.93M518.72 293.42h0.93M571.05 293.42h0.93M518.72 298.04h0.93M571.05 298.04h0.93M515.96 307.29h0.93M573.80 307.29h0.93M515.96 311.91h0.93M573.80 311.91h0.93" stroke="#d6e0ff" stroke-opacity="0.24" stroke-width="2.13" fill="none"/>
<path d="M549.01 182.46h0.93M540.75 191.70h0.93M549.01 191.70h0.93M546.26 200.95h0.93M551.77 210.20h0.93M551.77 214.82h0.93M535.24 219.44h0.93M538.00 219.44h0.93M554.52 219.44h0.93M535.24 228.69h0.93M557.28 228.69h0.93M532.49 233.31h0.93M557.28 233.31h0.93M529.73 247.18h0.93M560.03 247.18h0.93M529.73 251.81h0.93M562.79 256.43h0.93" stroke="#d6e0ff" stroke-opacity="0.34" stroke-width="2.13" fill="none"/>
<path d="M543.51 182.46h0.93M549.01 187.08h0.93M543.51 205.57h0.93M538.00 210.20h0.93M540.75 210.20h0.93M538.00 214.82h0.93M554.52 214.82h0.93M535.24 224.07h0.93" stroke="#d6e0ff" stroke-opacity="0.44" stroke-width="2.13" fill="none"/>
<path d="M546.26 196.33h0.93M549.01 196.33h0.93M538.00 200.95h0.93M551.77 200.95h0.93M538.00 205.57h0.93M540.75 205.57h0.93" stroke="#d6e0ff" stroke-opacity="0.54" stroke-width="2.13" fill="none"/>
<path d="M543.51 187.08h0.93M543.51 191.70h0.93M540.75 196.33h0.93M549.01 200.95h0.93M551.77 205.57h0.93" stroke="#d6e0ff" stroke-opacity="0.64" stroke-width="2.13" fill="none"/>
<path d="M546.26 182.46h0.93M546.26 191.70h0.93" stroke="#d6e0ff" stroke-opacity="0.74" stroke-width="2.13" fill="none"/>
<path d="M543.51 200.95h0.93" stroke="#d6e0ff" stroke-opacity="0.84" stroke-width="2.13" fill="none"/>
<path d="M546.26 187.08h0.93M540.75 200.95h0.93" stroke="#d6e0ff" stroke-opacity="0.94" stroke-width="2.13" fill="none"/>
<path d="M543.51 196.33h0.93" stroke="#d6e0ff" stroke-opacity="1.00" stroke-width="2.13" fill="none"/>
<rect x="587.10" y="181.3" width="96.60000000000002" height="138.70" fill="#323694"/>
<path d="M639.64 182.46h1.18M652.06 189.39h1.18M642.40 200.95h1.18M656.20 205.57h1.18M643.78 207.88h1.18M645.16 210.20h1.18M657.58 212.51h1.18M645.16 214.82h1.18M646.54 217.13h1.18M645.16 219.44h1.18M658.96 219.44h1.18M646.54 221.75h1.18M660.34 226.38h1.18M647.92 228.69h1.18M649.30 235.62h1.18M663.10 235.62h1.18M649.30 240.25h1.18M650.68 242.56h1.18M664.48 242.56h1.18M650.68 247.18h1.18M665.86 249.49h1.18M652.06 254.12h1.18M653.44 256.43h1.18M667.24 256.43h1.18M653.44 261.05h1.18M654.82 263.36h1.18M668.62 263.36h1.18M670.00 265.68h1.18M654.82 267.99h1.18M670.00 270.30h1.18M654.82 272.61h1.18M671.38 277.23h1.18M656.20 279.55h1.18M672.76 279.55h1.18M657.58 281.86h1.18M656.20 284.17h1.18M657.58 286.48h1.18M674.14 286.48h1.18M658.96 293.42h1.18M660.34 300.35h1.18M676.90 300.35h1.18M678.28 302.66h1.18M660.34 304.97h1.18M661.72 311.91h1.18M663.10 314.22h1.18M681.04 316.53h1.18M663.10 318.84h1.18" stroke="#d6e0ff" stroke-opacity="0.13" stroke-width="2.13" fill="none"/>
<path d="M641.02 184.77h1.18M641.02 189.39h1.18M642.40 191.70h1.18M652.06 194.01h1.18M642.40 196.33h1.18M653.44 196.33h1.18M643.78 198.64h1.18M643.78 203.26h1.18M654.82 203.26h1.18M656.20 210.20h1.18M657.58 217.13h1.18M647.92 224.07h1.18M649.30 231.00h1.18M661.72 233.31h1.18M650.68 237.94h1.18M663.10 240.25h1.18M652.06 244.87h1.18M664.48 247.18h1.18M652.06 249.49h1.18M653.44 251.81h1.18M665.86 254.12h1.18M667.24 261.05h1.18M656.20 265.68h1.18M656.20 270.30h1.18M656.20 274.92h1.18M670.00 274.92h1.18M657.58 277.23h1.18M658.96 284.17h1.18M672.76 284.17h1.18M658.96 288.79h1.18M660.34 291.10h1.18M675.52 293.42h1.18M660.34 295.73h1.18M661.72 298.04h1.18M675.52 298.04h1.18M661.72 302.66h1.18M663.10 304.97h1.18M661.72 307.29h1.18M678.28 307.29h1.18M663.10 309.60h1.18M664.48 311.91h1.18M678.28 311.91h1.18M679.66 314.22h1.18M664.48 316.53h1.18M665.86 318.84h1.18" stroke="#d6e0ff" stroke-opacity="0.22" stroke-width="2.13" fill="none"/>
<path d="M642.40 187.08h1.18M650.68 187.08h1.18M643.78 194.01h1.18M645.16 200.95h1.18M645.16 205.57h1.18M654.82 207.88h1.18M646.54 212.51h1.18M647.92 219.44h1.18M658.96 224.07h1.18M649.30 226.38h1.18M660.34 231.00h1.18M650.68 233.31h1.18M661.72 237.94h1.18M653.44 247.18h1.18M654.82 254.12h1.18M654.82 258.74h1.18M665.86 258.74h1.18M656.20 261.05h1.18M667.24 265.68h1.18M668.62 267.99h1.18M657.58 272.61h1.18M658.96 279.55h1.18M671.38 281.86h1.18M660.34 286.48h1.18M661.72 288.79h1.18M672.76 288.79h1.18M674.14 291.10h1.18M661.72 293.42h1.18M663.10 300.35h1.18M676.90 304.97h1.18M664.48 307.29h1.18" stroke="#d6e0ff" stroke-opacity="0.30" stroke-width="2.13" fill="none"/>
<path d="M653.44 200.95h1.18M647.92 214.82h1.18M656.20 214.82h1.18M650.68 228.69h1.18M658.96 228.69h1.18M652.06 240.25h1.18M653.44 242.56h1.18M661.72 242.56h1.18M663.10 244.87h1.18M664.48 251.81h1.18M657.58 263.36h1.18M657.58 267.99h1.18M658.96 274.92h1.18M660.34 281.86h1.18M663.10 291.10h1.18M663.10 295.73h1.18M674.14 295.73h1.18M664.48 298.04h1.18M664.48 302.66h1.18M675.52 302.66h1.18M665.86 309.60h1.18M676.90 309.60h1.18M665.86 314.22h1.18M667.24 316.53h1.18M679.66 318.84h1.18" stroke="#d6e0ff" stroke-opacity="0.39" stroke-width="2.13" fill="none"/>
<path d="M642.40 182.46h1.18M649.30 184.77h1.18M643.78 189.39h1.18M645.16 196.33h1.18M646.54 198.64h1.18M652.06 198.64h1.18M653.44 205.57h1.18M646.54 207.88h1.18M649.30 217.13h1.18M649.30 221.75h1.18M657.58 221.75h1.18M650.68 224.07h1.18M652.06 235.62h1.18M660.34 235.62h1.18M654.82 244.87h1.18M654.82 249.49h1.18M656.20 256.43h1.18M664.48 256.43h1.18M665.86 263.36h1.18M668.62 272.61h1.18M660.34 277.23h1.18M661.72 279.55h1.18M670.00 279.55h1.18M661.72 284.17h1.18M663.10 286.48h1.18M672.76 293.42h1.18M665.86 300.35h1.18M674.14 300.35h1.18M665.86 304.97h1.18M678.28 316.53h1.18M668.62 318.84h1.18" stroke="#d6e0ff" stroke-opacity="0.48" stroke-width="2.13" fill="none"/>
<path d="M645.16 191.70h1.18M646.54 203.26h1.18M647.92 210.20h1.18M652.06 231.00h1.18M653.44 237.94h1.18M656.20 247.18h1.18M661.72 247.18h1.18M663.10 249.49h1.18M656.20 251.81h1.18M657.58 258.74h1.18M658.96 265.68h1.18M658.96 270.30h1.18M667.24 270.30h1.18M660.34 272.61h1.18M668.62 277.23h1.18M670.00 284.17h1.18M671.38 286.48h1.18M665.86 291.10h1.18M671.38 291.10h1.18M667.24 298.04h1.18M675.52 307.29h1.18M668.62 309.60h1.18M667.24 311.91h1.18M676.90 314.22h1.18M676.90 318.84h1.18" stroke="#d6e0ff" stroke-opacity="0.57" stroke-width="2.13" fill="none"/>
<path d="M647.92 182.46h1.18M650.68 191.70h1.18M647.92 200.95h1.18M652.06 203.26h1.18M654.82 212.51h1.18M650.68 219.44h1.18M652.06 226.38h1.18M657.58 226.38h1.18M657.58 231.00h1.18M653.44 233.31h1.18M658.96 233.31h1.18M656.20 242.56h1.18M658.96 256.43h1.18M658.96 261.05h1.18M660.34 267.99h1.18M661.72 274.92h1.18M664.48 284.17h1.18M664.48 293.42h1.18M671.38 295.73h1.18M672.76 298.04h1.18M668.62 300.35h1.18M668.62 304.97h1.18M674.14 304.97h1.18M667.24 307.29h1.18M668.62 314.22h1.18M670.00 316.53h1.18M671.38 318.84h1.18" stroke="#d6e0ff" stroke-opacity="0.66" stroke-width="2.13" fill="none"/>
<path d="M643.78 184.77h1.18M649.30 189.39h1.18M650.68 196.33h1.18M647.92 205.57h1.18M649.30 207.88h1.18M650.68 210.20h1.18M650.68 214.82h1.18M656.20 219.44h1.18M654.82 235.62h1.18M654.82 240.25h1.18M660.34 263.36h1.18M661.72 265.68h1.18M661.72 270.30h1.18M663.10 272.61h1.18M663.10 281.86h1.18M664.48 288.79h1.18M670.00 288.79h1.18M667.24 293.42h1.18M671.38 300.35h1.18M667.24 302.66h1.18M672.76 302.66h1.18M670.00 307.29h1.18M670.00 311.91h1.18M672.76 311.91h1.18M674.14 314.22h1.18" stroke="#d6e0ff" stroke-opacity="0.74" stroke-width="2.13" fill="none"/>
<path d="M646.54 189.39h1.18M649.30 194.01h1.18M649.30 203.26h1.18M653.44 210.20h1.18M649.30 212.51h1.18M654.82 217.13h1.18M656.20 224.07h1.18M656.20 237.94h1.18M660.34 240.25h1.18M660.34 249.49h1.18M657.58 254.12h1.18M663.10 254.12h1.18M663.10 258.74h1.18M665.86 267.99h1.18M664.48 270.30h1.18M664.48 279.55h1.18M667.24 284.17h1.18M668.62 286.48h1.18M665.86 295.73h1.18M668.62 295.73h1.18M670.00 302.66h1.18M675.52 311.91h1.18M671.38 314.22h1.18" stroke="#d6e0ff" stroke-opacity="0.83" stroke-width="2.13" fill="none"/>
<path d="M645.16 182.46h1.18M646.54 184.77h1.18M645.16 187.08h1.18M647.92 187.08h1.18M647.92 191.70h1.18M646.54 194.01h1.18M647.92 196.33h1.18M649.30 198.64h1.18M650.68 200.95h1.18M650.68 205.57h1.18M652.06 207.88h1.18M652.06 212.51h1.18M653.44 214.82h1.18M652.06 217.13h1.18M653.44 219.44h1.18M652.06 221.75h1.18M654.82 221.75h1.18M653.44 224.07h1.18M654.82 226.38h1.18M653.44 228.69h1.18M656.20 228.69h1.18M654.82 231.00h1.18M656.20 233.31h1.18M657.58 235.62h1.18M658.96 237.94h1.18M657.58 240.25h1.18M658.96 242.56h1.18M657.58 244.87h1.18M660.34 244.87h1.18M658.96 247.18h1.18M657.58 249.49h1.18M658.96 251.81h1.18M661.72 251.81h1.18M660.34 254.12h1.18M661.72 256.43h1.18M660.34 258.74h1.18M661.72 261.05h1.18M664.48 261.05h1.18M663.10 263.36h1.18M664.48 265.68h1.18M663.10 267.99h1.18M665.86 272.61h1.18M664.48 274.92h1.18M667.24 274.92h1.18M663.10 277.23h1.18M665.86 277.23h1.18M667.24 279.55h1.18M665.86 281.86h1.18M668.62 281.86h1.18M665.86 286.48h1.18M667.24 288.79h1.18M668.62 291.10h1.18M670.00 293.42h1.18M670.00 298.04h1.18M671.38 304.97h1.18M672.76 307.29h1.18M671.38 309.60h1.18M674.14 309.60h1.18M672.76 316.53h1.18M675.52 316.53h1.18M674.14 318.84h1.18" stroke="#d6e0ff" stroke-opacity="0.92" stroke-width="2.13" fill="none"/>
<path d="M485.2 181.3H584.6M587.1 181.3H683.7M485.2 320.0H584.6M587.1 320.0H683.7" stroke="#111" stroke-width="0.8" fill="none"/>
<path d="M488.4 181.3V320.0M587.3000000000001 181.3V320.0M584.2 181.3V320.0" stroke="#121236" stroke-width="0.7" fill="none"/>
<path d="M485.2 227.53H488.2M584.6 227.53H587.1" stroke="#111" stroke-width="0.8"/>
<path d="M485.2 273.77H488.2M584.6 273.77H587.1" stroke="#111" stroke-width="0.8"/>
<text x="483.60" y="184.25" font-family="Liberation Sans, Arial, Helvetica, sans-serif" font-size="7.5" fill="#000" text-anchor="end">0</text>
<text x="483.60" y="230.48" font-family="Liberation Sans, Arial, Helvetica, sans-serif" font-size="7.5" fill="#000" text-anchor="end">20</text>
<text x="483.60" y="276.72" font-family="Liberation Sans, Arial, Helvetica, sans-serif" font-size="7.5" fill="#000" text-anchor="end">40</text>
<text x="483.60" y="322.95" font-family="Liberation Sans, Arial, Helvetica, sans-serif" font-size="7.5" fill="#000" text-anchor="end">60</text>
<line x1="494.97" y1="320.0" x2="494.97" y2="322.5" stroke="#111" stroke-width="0.9"/>
<text x="494.37" y="329.50" font-family="Liberation Sans, Arial, Helvetica, sans-serif" font-size="7.5" fill="#000" text-anchor="middle">-60</text>
<line x1="536.85" y1="320.0" x2="536.85" y2="322.5" stroke="#111" stroke-width="0.9"/>
<text x="536.85" y="329.50" font-family="Liberation Sans, Arial, Helvetica, sans-serif" font-size="7.5" fill="#000" text-anchor="middle">0</text>
<line x1="578.73" y1="320.0" x2="578.73" y2="322.5" stroke="#111" stroke-width="0.9"/>
<text x="578.73" y="329.50" font-family="Liberation Sans, Arial, Helvetica, sans-serif" font-size="7.5" fill="#000" text-anchor="middle">60</text>
<line x1="593.97" y1="320.0" x2="593.97" y2="322.5" stroke="#111" stroke-width="0.9"/>
<text x="593.37" y="329.50" font-family="Liberation Sans, Arial, Helvetica, sans-serif" font-size="7.5" fill="#000" text-anchor="middle">-60</text>
<line x1="635.85" y1="320.0" x2="635.85" y2="322.5" stroke="#111" stroke-width="0.9"/>
<text x="635.85" y="329.50" font-family="Liberation Sans, Arial, Helvetica, sans-serif" font-size="7.5" fill="#000" text-anchor="middle">0</text>
<line x1="677.73" y1="320.0" x2="677.73" y2="322.5" stroke="#111" stroke-width="0.9"/>
<text x="677.73" y="329.50" font-family="Liberation Sans, Arial, Helvetica, sans-serif" font-size="7.5" fill="#000" text-anchor="middle">60</text>
<text x="583.45" y="166.4" font-family="Liberation Sans, Arial, Helvetica, sans-serif" font-size="9.25" fill="#000" text-anchor="middle">V = 0.2π (Klein tunneling)</text>
<text x="534.20" y="178.4" font-family="Liberation Sans, Arial, Helvetica, sans-serif" font-size="7.45" fill="#000" text-anchor="middle">Short loop</text>
<text x="632.40" y="178.4" font-family="Liberation Sans, Arial, Helvetica, sans-serif" font-size="7.45" fill="#000" text-anchor="middle">Long loop</text>
<text x="587.35" y="340.9" font-family="Liberation Sans, Arial, Helvetica, sans-serif" font-size="9.1" fill="#000" text-anchor="middle">Position <tspan font-style="italic">n</tspan></text>
<text transform="translate(472.40 249.4) rotate(-90)" font-family="Liberation Sans, Arial, Helvetica, sans-serif" font-size="9.55" fill="#000" text-anchor="middle">Time step <tspan font-style="italic">m</tspan></text>
</svg>
</body></html>
